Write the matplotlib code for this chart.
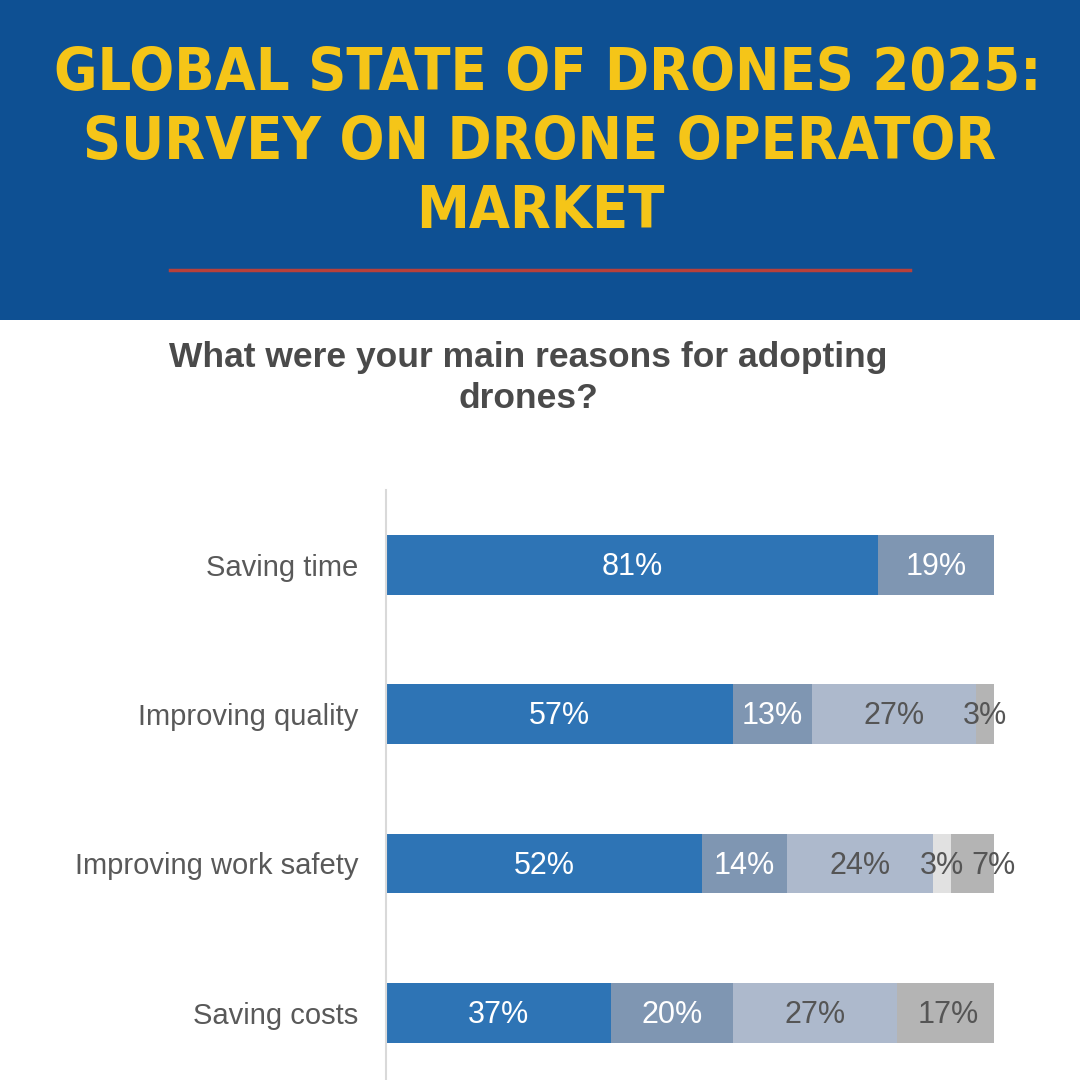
import matplotlib
matplotlib.use("Agg")
import matplotlib.pyplot as plt
from matplotlib.patches import Rectangle
from matplotlib.lines import Line2D
import numpy as np

# data
categories = ["Saving time", "Improving quality", "Improving work safety", "Saving costs"]
series_1 = [81, 57, 52, 37]
series_2 = [19, 13, 14, 20]
series_3 = [0, 27, 24, 27]
series_4 = [0, 0, 3, 0]
series_5 = [0, 3, 7, 17]

colors = ["#2e74b5", "#7f96b2", "#adb9cc", "#e1e1e1", "#b4b4b4"]
text_colors = ["white", "white", "#555555", "#555555", "#555555"]

fig = plt.figure(figsize=(10.8, 10.8), dpi=100)
fig.patch.set_facecolor("white")

# header band
fig.patches.append(Rectangle((0, 1 - 320 / 1080), 1, 320 / 1080, transform=fig.transFigure,
                             facecolor="#0e5093", edgecolor="none", zorder=0))
title_lines = ["GLOBAL STATE OF DRONES 2025:", "SURVEY ON DRONE OPERATOR", "MARKET"]
title_y = [73, 142, 212]
title_x = [548, 540, 540]
for txt, yy, xx in zip(title_lines, title_y, title_x):
    fig.text(xx / 1080, 1 - yy / 1080, txt, ha="center", va="center", color="#f5c518",
             fontsize=42.5, fontweight="bold", family="DejaVu Sans", fontstretch="condensed")
fig.lines.append(Line2D([170 / 1080, 910 / 1080], [1 - 270 / 1080] * 2, transform=fig.transFigure,
                        color="#b8403a", linewidth=2.5))

# chart title
fig.text(528 / 1080, 1 - 358 / 1080, "What were your main reasons for adopting", ha="center", va="center",
         color="#4a4a4a", fontsize=25.5, fontweight="bold", family="Liberation Sans")
fig.text(528 / 1080, 1 - 399 / 1080, "drones?", ha="center", va="center",
         color="#4a4a4a", fontsize=25.5, fontweight="bold", family="Liberation Sans")

ax = fig.add_axes([386 / 1080, 0, 608 / 1080, 590 / 1080])
ax.set_facecolor("none")

series = [series_1, series_2, series_3, series_4, series_5]
y = np.arange(len(categories))
left = np.zeros(len(categories))
for i, vals in enumerate(series):
    vals = np.array(vals, dtype=float)
    ax.barh(y, vals, left=left, height=0.40, color=colors[i], edgecolor="none")
    for j, v in enumerate(vals):
        if v > 0:
            dx = 0
            # small segment after another small one: nudge label right
            if i == 4 and series[3][j] > 0 and v < 10:
                dx = 15
            ax.annotate("%d%%" % v, (left[j] + v / 2, y[j]), xytext=(dx, -1.5), textcoords="offset points",
                        ha="center", va="center", color=text_colors[i], fontsize=22,
                        family="Liberation Sans")
    left += vals

ax.set_xlim(0, 100)
ax.set_ylim(3.45, -0.5)
ax.set_xticks([])
ax.set_yticks(y)
ax.set_yticklabels(categories, fontsize=21, color="#595959", family="Liberation Sans")
ax.tick_params(axis="y", length=0, pad=20)
for s in ["top", "right", "bottom"]:
    ax.spines[s].set_visible(False)
ax.spines["left"].set_color("#d9d9d9")
ax.spines["left"].set_linewidth(1.5)

fig.savefig("out.png", dpi=100)
